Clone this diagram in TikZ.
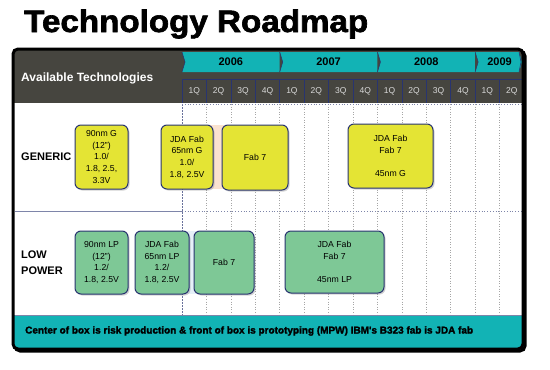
\documentclass[tikz,border=0pt]{standalone}
\usepackage{fontspec}
\setmainfont{Liberation Sans}
\newfontfamily\heavyfont[BoldFeatures={FakeBold=2}]{Liberation Sans}
\usepackage{tikz}
\usetikzlibrary{shadows}

\definecolor{hdrgray}{RGB}{70,69,63}
\definecolor{bandteal}{RGB}{18,179,181}
\definecolor{cellnavy}{RGB}{40,52,112}
\definecolor{genyellow}{RGB}{228,228,52}
\definecolor{lpgreen}{RGB}{126,200,150}
\definecolor{peach}{RGB}{250,226,208}
\definecolor{paleblue}{RGB}{230,240,248}

\tikzset{
	tech/.style={draw=cellnavy, line width=1pt, rounded corners=6pt, align=center, inner sep=1pt,
		font=\fontsize{8.7}{11.7}\selectfont,
		drop shadow={shadow xshift=1.5pt, shadow yshift=-1.5pt, opacity=0.35}},
	generic/.style={tech, fill=genyellow},
	lowpow/.style={tech, fill=lpgreen},
	rowlabel/.style={anchor=west, align=left, inner sep=0pt, font=\fontsize{11}{16}\selectfont\bfseries},
	qlabel/.style={text=black!15, inner sep=0pt, font=\fontsize{8.5}{10}\selectfont},
	yrlabel/.style={inner sep=0pt, font=\fontsize{11}{12}\selectfont\bfseries},
	griddot/.style={black!35, dotted, line width=0.6pt},
}

\begin{document}
\begin{tikzpicture}[x=1pt, y=-1pt]
	\useasboundingbox (0,0) rectangle (550,370);
	\def\xstart{182} % left edge of 2006
	\def\qwidth{24.43} % width of one quarter
	\def\xend{522} % right edge of frame
	
	% title
	\node[anchor=base west, inner sep=0pt, font=\fontsize{31}{31}\selectfont\heavyfont\bfseries] (title) at (24,32) {\scalebox{1.07}[1]{Technology Roadmap}};
	
	% frame shadow
	\draw[line width=3pt, rounded corners=5pt] (15,51) rectangle (525,351);
	\fill[white, rounded corners=5pt] (13,49) rectangle (523,349);
	
	% header and footer bands
	\begin{scope}
		\clip[rounded corners=5pt] (13,49) rectangle (523,349);
		\fill[hdrgray] (13,49) rectangle (523,103);
		\fill[bandteal] (13,315) rectangle (523,349);
	\end{scope}
	\node[anchor=west, inner sep=0pt, text=white, font=\fontsize{12}{14}\selectfont\bfseries] (avail) at (21,78) {Available Technologies};
	
	% year chevrons
	\coordinate (Y0) at (\xstart,52);
	\coordinate (Y1) at (\xstart+4*\qwidth,52);
	\coordinate (Y2) at (\xstart+8*\qwidth,52);
	\coordinate (Y3) at (\xstart+12*\qwidth,52);
	\coordinate (Y4) at (519,52);
	\foreach \a/\b in {Y0/Y1, Y1/Y2, Y2/Y3, Y3/Y4}{
		\fill[bandteal] (\a) -- (\b) -- ++(3,10) -- ++(-3,10) -| (\a) -- cycle;
		\fill[hdrgray] (\a) -- ++(3,10) -- ++(-3,10) -- cycle;
		\draw[cellnavy, line width=0.5pt] (\a) -- ++(3,10) -- ++(-3,10);
	}
	\draw[cellnavy, line width=0.5pt] (Y4) -- ++(2,10) -- ++(-2,10);
	\node[yrlabel] (y2006) at (\xstart+2*\qwidth,62) {2006};
	\node[yrlabel] (y2007) at (\xstart+6*\qwidth,62) {2007};
	\node[yrlabel] (y2008) at (\xstart+10*\qwidth,62) {2008};
	\node[yrlabel] (y2009) at (\xstart+13*\qwidth,62) {2009};
	
	% quarter cells
	\foreach \q [count=\i from 0] in {1Q,2Q,3Q,4Q,1Q,2Q,3Q,4Q,1Q,2Q,3Q,4Q,1Q,2Q}{
		\draw[cellnavy, line width=0.5pt] (\xstart+\i*\qwidth,103) |- (\xstart+\i*\qwidth+\qwidth,79);
		\node[qlabel] (q\i) at (\xstart+\i*\qwidth+\qwidth/2,91.5) {\q};
	}
	
	% backgrounds behind the boxes
	\fill[peach] (\xstart+\qwidth,125) rectangle (\xstart+2*\qwidth,189);
	\fill[paleblue] (\xstart,231) rectangle (\xstart+\qwidth,294);
	
	% dotted quarter grid
	\draw[cellnavy!70, line width=0.5pt, dash pattern=on 1.5pt off 1.5pt] (\xstart,104) -- (\xstart,315);
	\foreach \i in {1,...,13}
		\draw[griddot] (\xstart+\i*\qwidth,104) -- (\xstart+\i*\qwidth,315);
	
	% row separators
	\draw[cellnavy!60, dotted, line width=0.8pt] (\xstart,104) -- (\xend,104);
	\draw[cellnavy!60, line width=0.8pt] (15,211) -- (\xstart,211);
	\draw[cellnavy!60, dotted, line width=0.8pt] (\xstart,211) -- (\xend,211);
	\draw[cellnavy!60, line width=0.8pt] (15,315) -- (\xend,315);
	
	% row labels
	\node[rowlabel] (generic) at (21,157) {GENERIC};
	\node[rowlabel] (lowpower) at (21,263) {LOW\\POWER};
	
	% generic technologies
	\node[generic, minimum width=53pt, minimum height=64pt] (g1) at (101.5,157) {90nm G\\(12'')\\1.0/\\1.8, 2.5,\\3.3V};
	\node[generic, minimum width=52pt, minimum height=64pt] (g2) at (187,157) {JDA Fab\\65nm G\\1.0/\\1.8, 2.5V};
	\node[generic, minimum width=66pt, minimum height=65pt] (g3) at (255,157.5) {Fab 7};
	\node[generic, minimum width=85pt, minimum height=64pt] (g4) at (390.5,156) {JDA Fab\\Fab 7\\[11.7pt]45nm G};
	
	% low power technologies
	\node[lowpow, minimum width=53pt, minimum height=63pt] (l1) at (101.5,262.5) {90nm LP\\(12'')\\1.2/\\1.8, 2.5V};
	\node[lowpow, minimum width=54pt, minimum height=63pt] (l2) at (162,262.5) {JDA Fab\\65nm LP\\1.2/\\1.8, 2.5V};
	\node[lowpow, minimum width=60pt, minimum height=63pt] (l3) at (224,262.5) {Fab 7};
	\node[lowpow, minimum width=99pt, minimum height=62pt] (l4) at (334.5,262) {JDA Fab\\Fab 7\\[11.7pt]45nm LP};
	
	% footer note
	\node[anchor=west, inner sep=0pt, font=\fontsize{10}{12}\selectfont\heavyfont\bfseries] (note) at (25,331) {Center of box is risk production \& front of box is prototyping (MPW) IBM's B323 fab is JDA fab};
	
	% frame
	\draw[line width=3pt, rounded corners=5pt] (13,49) rectangle (523,349);
\end{tikzpicture}
\end{document}
